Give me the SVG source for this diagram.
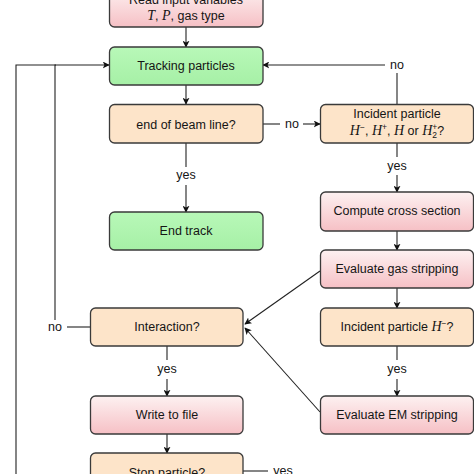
<svg xmlns="http://www.w3.org/2000/svg" width="474" height="474" viewBox="0 0 474 474">
<defs>
<linearGradient id="pink" x1="0" y1="0" x2="0" y2="1">
<stop offset="0" stop-color="#fdf1f1"/>
<stop offset="1" stop-color="#f6c0c5"/>
</linearGradient>
<linearGradient id="green" x1="0" y1="0" x2="0" y2="1">
<stop offset="0" stop-color="#b8f8b8"/>
<stop offset="1" stop-color="#a6f0a6"/>
</linearGradient>
<marker id="ah" viewBox="0 0 10 10" refX="9" refY="5" markerWidth="7" markerHeight="7" markerUnits="userSpaceOnUse" orient="auto">
<path d="M0,0 L10,5 L0,10 L2.5,5 Z" fill="#111"/>
</marker>
<style>
.box{stroke:#3a3a3a;stroke-width:1.3}
.pk{fill:url(#pink)}
.gr{fill:url(#green)}
.or{fill:#fde4c9}
text{font-family:"Liberation Sans",Arial,sans-serif;font-size:12.5px;fill:#151515;text-anchor:middle}
.m{font-family:"Liberation Serif","Times New Roman",serif;font-style:italic;font-size:14px}
.s{font-size:8.5px}
.c line,.c path,.c polyline{stroke:#222;stroke-width:1.1;fill:none}
.c .a{marker-end:url(#ah)}
</style>
</defs>

<g class="c" id="connectors">
<line class="a" x1="186" y1="27" x2="186" y2="47"/>
<line class="a" x1="186" y1="85" x2="186" y2="104"/>
<line x1="186" y1="143" x2="186" y2="167"/>
<text x="186" y="179">yes</text>
<line class="a" x1="186" y1="185" x2="186" y2="212"/>
<line x1="263" y1="124" x2="280" y2="124"/>
<text x="292" y="128">no</text>
<line class="a" x1="303" y1="124" x2="320" y2="124"/>
<line x1="397" y1="104" x2="397" y2="73"/>
<text x="397" y="69">no</text>
<line class="a" x1="385" y1="65" x2="263" y2="65"/>
<line x1="397" y1="143" x2="397" y2="157"/>
<text x="397" y="170">yes</text>
<line class="a" x1="397" y1="175" x2="397" y2="192"/>
<line class="a" x1="397" y1="231" x2="397" y2="250"/>
<line class="a" x1="397" y1="288" x2="397" y2="308"/>
<line class="a" x1="320" y1="271" x2="245" y2="324"/>
<line class="a" x1="320" y1="412" x2="245" y2="328"/>
<line x1="90" y1="327" x2="67" y2="327"/>
<text x="55" y="331">no</text>
<polyline class="a" points="55,320 55,65 109,65"/>
<polyline points="16,474 16,65 56,65"/>
<line x1="167" y1="346" x2="167" y2="360"/>
<text x="167" y="373">yes</text>
<line class="a" x1="167" y1="379" x2="167" y2="396"/>
<line x1="397" y1="346" x2="397" y2="360"/>
<text x="397" y="373">yes</text>
<line class="a" x1="397" y1="379" x2="397" y2="396"/>
<line class="a" x1="167" y1="434" x2="167" y2="453"/>
<line x1="243" y1="471" x2="268" y2="471"/>
<text x="283" y="475">yes</text>
</g>

<g id="read-input">
<rect class="box pk" x="109.5" y="-12" width="153.5" height="39" rx="5"/>
<text x="186" y="4">Read input variables</text>
<text x="186" y="20"><tspan class="m">T</tspan>, <tspan class="m">P</tspan>, gas type</text>
</g>
<g id="tracking">
<rect class="box gr" x="109.5" y="47" width="153.5" height="38" rx="5"/>
<text x="186" y="69.5">Tracking particles</text>
</g>
<g id="end-beam">
<rect class="box or" x="109.5" y="104.5" width="153.5" height="38.5" rx="5"/>
<text x="186" y="128.5">end of beam line?</text>
</g>
<g id="incident">
<rect class="box or" x="320.5" y="104.5" width="153" height="38.5" rx="5"/>
<text x="397" y="118">Incident particle</text>
<text x="397" y="135"><tspan class="m">H</tspan><tspan class="s" dy="-5">−</tspan><tspan dy="5">, </tspan><tspan class="m">H</tspan><tspan class="s" dy="-5">+</tspan><tspan dy="5">, </tspan><tspan class="m">H</tspan> or <tspan class="m">H</tspan><tspan class="s" dy="3">2</tspan><tspan class="s" dx="-4.8" dy="-8">+</tspan><tspan dy="5">?</tspan></text>
</g>
<g id="end-track">
<rect class="box gr" x="109.5" y="212" width="153.5" height="38" rx="5"/>
<text x="186" y="235">End track</text>
</g>
<g id="cross-section">
<rect class="box pk" x="320.5" y="192" width="153" height="39" rx="5"/>
<text x="397" y="215">Compute cross section</text>
</g>
<g id="gas-stripping">
<rect class="box pk" x="320.5" y="250" width="153" height="38" rx="5"/>
<text x="397" y="273">Evaluate gas stripping</text>
</g>
<g id="interaction">
<rect class="box or" x="90.5" y="308" width="152.5" height="38" rx="5"/>
<text x="167" y="331">Interaction?</text>
</g>
<g id="incident-hminus">
<rect class="box or" x="320.5" y="308" width="153" height="38" rx="5"/>
<text x="397" y="331">Incident particle <tspan class="m">H</tspan><tspan class="s" dy="-5">−</tspan><tspan dy="5">?</tspan></text>
</g>
<g id="write-file">
<rect class="box pk" x="90.5" y="396" width="152.5" height="38" rx="5"/>
<text x="167" y="419">Write to file</text>
</g>
<g id="em-stripping">
<rect class="box pk" x="320.5" y="396" width="153" height="38" rx="5"/>
<text x="397" y="419">Evaluate EM stripping</text>
</g>
<g id="stop">
<rect class="box or" x="90.5" y="453" width="152.5" height="38" rx="5"/>
<text x="167" y="477">Stop particle?</text>
</g>
</svg>
